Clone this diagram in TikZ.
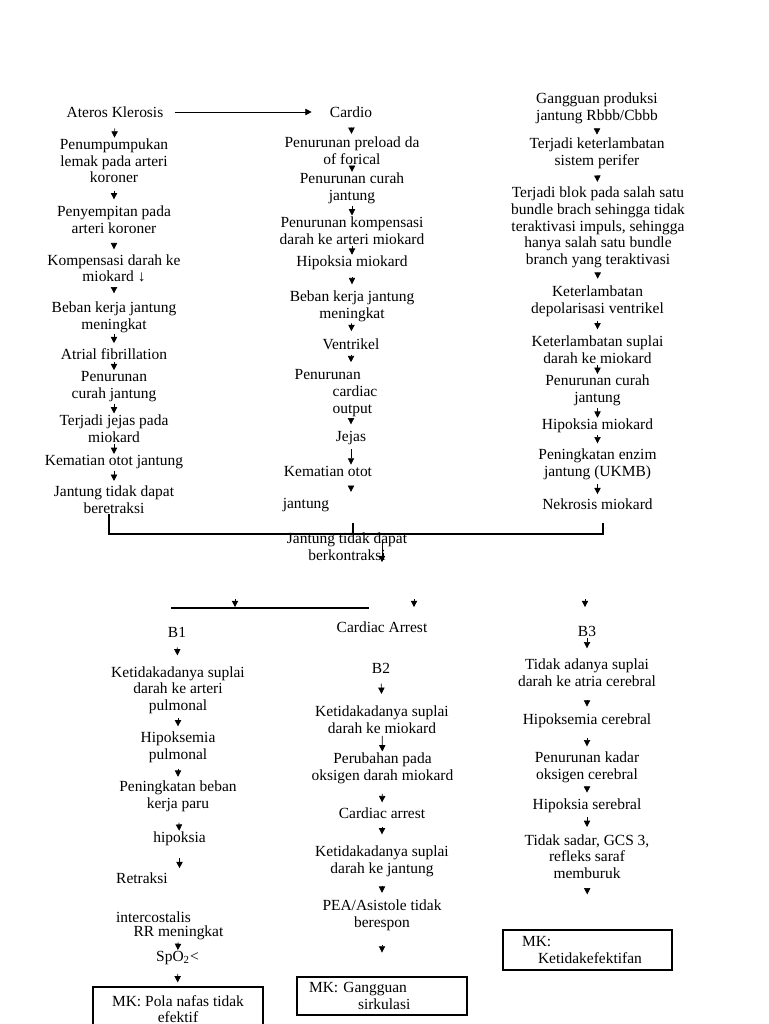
\documentclass[tikz,border=0pt]{standalone}
\usepackage{fontspec}
\setmainfont{Liberation Serif}
\usetikzlibrary{arrows.meta}
\begin{document}
\begin{tikzpicture}[
    x=0.02cm, y=-0.02cm,
    font=\fontsize{8.8}{9.5}\selectfont,
    stage/.style={
        inner sep=0pt,
        align=center
    },
    flow/.style={
        -{Triangle[length=3.6pt,width=3.6pt]},
        line width=0.4pt,
        shorten <=1pt,
        shorten >=0.5pt
    },
    bar/.style={
        line width=0.6pt
    },
    mkbox/.style={
        draw,
        line width=0.6pt,
        minimum width=3.4cm
    }
]
    \useasboundingbox (0,0) rectangle (768,1024);

    % left column
    \node[stage] (ateros) at (115,112) {Ateros Klerosis};
    \node[stage] (penumpukan) at (114,161) {Penumpumpukan\\lemak pada arteri\\koroner};
    \node[stage] (penyempitan) at (114,219.5) {Penyempitan pada\\arteri koroner};
    \node[stage] (kompensasi) at (114,268.5) {Kompensasi darah ke\\miokard ↓};
    \node[stage] (bebanL) at (114,317) {Beban kerja jantung\\meningkat};
    \node[stage] (atrial) at (114,354) {Atrial fibrillation};
    \node[stage] (curahL) at (114,386.5) {Penurunan\\curah jantung};
    \node[stage] (jejasL) at (114,428.5) {Terjadi jejas pada\\miokard};
    \node[stage] (kematianL) at (114,462) {Kematian otot jantung};
    \node[stage] (retraksiL) at (114,500) {Jantung tidak dapat\\beretraksi};

    % middle column
    \node[stage] (cardio) at (351,112) {Cardio};
    \node[stage] (preload) at (352,151) {Penurunan preload da\\of forical};
    \node[stage] (curahM) at (352,188.5) {Penurunan curah\\jantung};
    \node[stage] (kompM) at (352,230.5) {Penurunan kompensasi\\darah ke arteri miokard};
    \node[stage] (hipoM) at (352,263) {Hipoksia miokard};
    \node[stage] (bebanM) at (352,306) {Beban kerja jantung\\meningkat};
    \node[stage] (ventrikel) at (351,344) {Ventrikel};
    \node[stage, align=left] (output) at (336,393)
        {Penurunan\\\hspace*{0.76cm}cardiac\\\hspace*{0.76cm}output};
    \node[stage] (jejasM) at (351,438.5) {Jejas};
    \node[stage] (kematianM) at (328,471) {Kematian otot};
    \node[stage] (jantungM) at (306,505) {jantung};
    \node[stage] (kontraksi) at (347,546.5) {Jantung tidak dapat\\berkontraksi};

    % right column
    \node[stage] (gangguan) at (597,108.5) {Gangguan produksi\\jantung Rbbb/Cbbb};
    \node[stage] (perifer) at (597,153) {Terjadi keterlambatan\\sistem perifer};
    \node[stage] (blok) at (598,227.5)
        {Terjadi blok pada salah satu\\bundle brach sehingga tidak\\teraktivasi impuls, sehingga\\hanya salah satu bundle\\branch yang teraktivasi};
    \node[stage] (depol) at (597.5,301.5) {Keterlambatan\\depolarisasi ventrikel};
    \node[stage] (suplaiR) at (597.5,349.5) {Keterlambatan suplai\\darah ke miokard};
    \node[stage] (curahR) at (597.5,390.5) {Penurunan curah\\jantung};
    \node[stage] (hipoR) at (597.5,426) {Hipoksia miokard};
    \node[stage] (enzim) at (597.5,464) {Peningkatan enzim\\jantung (UKMB)};
    \node[stage] (nekrosis) at (597.5,504) {Nekrosis miokard};

    % lower part
    \node[stage] (bsatu) at (177,632) {B1};
    \node[stage] (arrest) at (382,627) {Cardiac Arrest};
    \node[stage] (btiga) at (587,631) {B3};
    \node[stage] (bdua) at (381,668) {B2};

    \node[stage] (pulmonal) at (178,690) {Ketidakadanya suplai\\darah ke arteri\\pulmonal};
    \node[stage] (hipoksemiaP) at (178,747) {Hipoksemia\\pulmonal};
    \node[stage] (paru) at (178,796.5) {Peningkatan beban\\kerja paru};
    \node[stage] (hipoksia) at (179.5,839) {hipoksia};
    \node[stage] (retraksi) at (142,878) {Retraksi};
    \node[stage] (intercostalis) at (153.5,917) {intercostalis};
    \node[stage] (rr) at (178.5,933) {RR meningkat};
    \node[stage] (spo) at (177.5,958) {SpO\textsubscript{2}<};
    \node[mkbox, minimum height=0.88cm, inner sep=0pt, align=center] (mknafas) at (178,1009)
        {MK: Pola nafas tidak\\efektif};

    \node[stage] (suplaiM) at (382,720) {Ketidakadanya suplai\\darah ke miokard};
    \node[stage] (oksigenM) at (382.5,768) {Perubahan pada\\oksigen darah miokard};
    \node[stage] (arrestM) at (382,813) {Cardiac arrest};
    \node[stage] (jantungB) at (382,861) {Ketidakadanya suplai\\darah ke jantung};
    \node[stage] (pea) at (382,915.5) {PEA/Asistole tidak\\berespon};
    \node[mkbox, minimum height=0.76cm, text width=2.92cm, inner xsep=0.24cm, inner ysep=0pt, align=left]
        (mksirkulasi) at (382,996) {MK: Gangguan\\\hspace*{0.98cm}sirkulasi};

    \node[stage] (atria) at (587,672.5) {Tidak adanya suplai\\darah ke atria cerebral};
    \node[stage] (hipoksemiaC) at (587,721) {Hipoksemia cerebral};
    \node[stage] (kadar) at (587,767) {Penurunan kadar\\oksigen cerebral};
    \node[stage] (serebral) at (587,806) {Hipoksia serebral};
    \node[stage] (gcs) at (587,856.5) {Tidak sadar, GCS 3,\\refleks saraf\\memburuk};
    \node[mkbox, minimum width=3.38cm, minimum height=0.8cm, text width=2.62cm, inner xsep=0.38cm, inner ysep=0pt, align=left]
        (mkefektif) at (587.5,950) {MK:\\\hspace*{0.32cm}Ketidakefektifan};

    \coordinate (bl) at (109,534);
    \coordinate (br) at (603,534);
    \coordinate (rt) at (603,523);
    \coordinate (mt) at (353,523);
    \coordinate (ka) at (382,540);
    \coordinate (kb) at (382,563);
    \coordinate (hl) at (171,608);
    \coordinate (hr) at (369,608);
    \coordinate (dropA) at (235,597);
    \coordinate (dropB) at (414,597);
    \coordinate (dropC) at (585,597);

    \draw[flow, shorten <=6.2pt, shorten >=10.2pt] (ateros) -- (cardio);

    \draw[flow, shorten <=6pt] (ateros) -- (penumpukan);
    \draw[flow, shorten <=4pt, shorten >=3.4pt] (penumpukan) -- (penyempitan);
    \draw[flow, shorten <=6pt, shorten >=2.8pt] (penyempitan) -- (kompensasi);
    \draw[flow, shorten <=2.8pt, shorten >=4.5pt] (kompensasi) -- (bebanL);
    \draw[flow, shorten >=2.8pt] (bebanL) -- (atrial);
    \draw[flow] (atrial) -- (curahL);
    \draw[flow] (curahL) -- (jejasL);
    \draw[flow] (jejasL) -- (kematianL);
    \draw[flow, shorten >=2.8pt] (kematianL) -- (retraksiL);

    \draw[flow, shorten <=6pt, shorten >=1.7pt] (cardio) -- (preload);
    \draw[flow] (preload) -- (curahM);
    \draw[flow] (curahM) -- (kompM);
    \draw[flow] (kompM) -- (hipoM);
    \draw[flow, shorten <=4pt, shorten >=3.4pt] (hipoM) -- (bebanM);
    \draw[flow, shorten >=4pt] (bebanM) -- (ventrikel);
    \draw[flow, shorten <=2.8pt, shorten >=4pt] (ventrikel.south) -- (ventrikel.south |- output.north);
    \draw[flow, shorten >=4pt] (jejasM.north |- output.south) -- (jejasM.north);
    \draw[flow, shorten <=2pt] (jejasM.south) -- (jejasM.south |- kematianM.north);
    \draw[flow, shorten <=5.7pt, shorten >=3.4pt] (jejasM.south |- kematianM.south) -- (jejasM.south |- jantungM.north);

    \draw[flow, shorten <=3.4pt, shorten >=1.5pt] (gangguan) -- (perifer);
    \draw[flow, shorten <=4pt, shorten >=2.8pt] (perifer) -- (blok);
    \draw[flow, shorten <=2.3pt, shorten >=4pt] (blok) -- (depol);
    \draw[flow, shorten <=2.3pt, shorten >=3.4pt] (depol) -- (suplaiR);
    \draw[flow] (suplaiR) -- (curahR);
    \draw[flow] (curahR) -- (hipoR);
    \draw[flow, shorten >=2.8pt] (hipoR) -- (enzim);
    \draw[flow, shorten <=2.3pt, shorten >=2.3pt] (enzim) -- (nekrosis);

    \draw[bar] (retraksiL.south -| bl) -- (bl) -- (br) -- (rt);
    \draw[bar] (mt) -- (mt |- bl);
    \draw[flow] (ka) -- (kb);

    \draw[bar] (hl) -- (hr);
    \draw[flow] (dropA) -- (dropA |- hl);
    \draw[flow] (dropB) -- (dropB |- hl);
    \draw[flow] (dropC) -- (dropC |- hl);

    \draw[flow, shorten <=5.7pt, shorten >=6pt] (bsatu) -- (pulmonal);
    \draw[flow, shorten <=2.3pt, shorten >=2.8pt] (pulmonal) -- (hipoksemiaP);
    \draw[flow, shorten <=3.4pt, shorten >=2.3pt] (hipoksemiaP) -- (paru);
    \draw[flow, shorten <=6pt] (paru) -- (hipoksia);
    \draw[flow, shorten <=6.8pt, shorten >=2.3pt] (hipoksia.south) -- (hipoksia.south |- retraksi.north);
    \draw[flow] (rr) -- (spo);
    \draw[flow, shorten <=5pt, shorten >=2.3pt] (spo) -- (mknafas);

    \draw[flow, shorten <=5.7pt, shorten >=6.8pt] (bdua) -- (suplaiM);
    \draw[flow] (suplaiM) -- (oksigenM);
    \draw[flow, shorten <=5.7pt, shorten >=2.8pt] (oksigenM) -- (arrestM);
    \draw[flow, shorten <=4.5pt, shorten >=6.2pt] (arrestM) -- (jantungB);
    \draw[flow, shorten <=5pt, shorten >=4pt] (jantungB) -- (pea);
    \draw[flow, shorten <=8pt, shorten >=13.6pt] (pea) -- (mksirkulasi);

    \draw[flow, shorten >=5.7pt] (btiga) -- (atria);
    \draw[flow, shorten <=7.4pt, shorten >=4pt] (atria) -- (hipoksemiaC);
    \draw[flow, shorten <=5.7pt, shorten >=2.8pt] (hipoksemiaC) -- (kadar);
    \draw[flow, shorten <=2.3pt, shorten >=3.4pt] (kadar) -- (serebral);
    \draw[flow, shorten <=2.3pt, shorten >=4pt] (serebral) -- (gcs);
    \draw[flow, shorten <=5.7pt, shorten >=20pt] (gcs) -- (mkefektif);
\end{tikzpicture}
\end{document}
